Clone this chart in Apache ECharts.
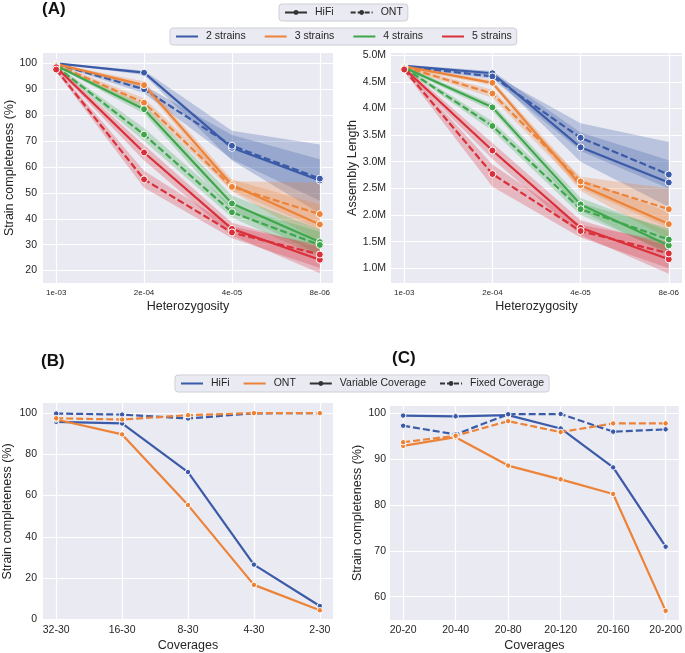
<!DOCTYPE html>
<html>
<head>
<meta charset="utf-8">
<script src="https://cdn.jsdelivr.net/npm/echarts@6/dist/echarts.min.js"></script>
<style>
  html, body { margin: 0; padding: 0; background: #fff; }
  #main { width: 685px; height: 653px; }
</style>
</head>
<body>
<div id="main"></div>
<script>
// ---- data (A) ----
const hetLabels = ['1e-03', '2e-04', '4e-05', '8e-06'];
const strainNames = ['2 strains', '3 strains', '4 strains', '5 strains'];
const strainColors = ['#3b5ba8', '#ec8338', '#40a64c', '#d9303a'];

// strain completeness (%), rows = 2..5 strains
const complHifi   = [[100.0, 96.4, 67.4, 54.8], [99.7, 91.6, 53.0, 37.8], [99.2, 82.3, 45.9, 31.0], [98.5, 65.6, 36.1, 24.2]];
const complHifiLo = [[99.9, 95.5, 62.5, 42.0], [99.4, 90.3, 50.5, 31.0], [98.8, 80.5, 43.0, 26.0], [97.8, 62.5, 33.5, 19.0]];
const complHifiHi = [[100.0, 97.2, 74.0, 68.7], [100.0, 93.0, 55.2, 45.5], [99.6, 84.0, 49.0, 36.0], [99.2, 68.5, 38.5, 29.0]];
const complOnt    = [[99.8, 90.0, 68.2, 55.5], [99.4, 84.8, 52.3, 41.8], [98.8, 72.5, 42.5, 29.9], [97.6, 55.2, 34.7, 26.2]];
const complOntLo  = [[99.5, 88.5, 63.0, 47.0], [98.9, 83.0, 50.8, 36.0], [98.2, 70.0, 40.5, 25.0], [96.8, 52.0, 32.5, 21.0]];
const complOntHi  = [[100.0, 91.5, 72.3, 63.0], [99.9, 86.5, 54.5, 54.0], [99.4, 75.0, 45.0, 35.0], [98.4, 58.5, 37.0, 30.0]];

// assembly length (Mbp)
const asmHifi   = [[4.80, 4.66, 3.27, 2.61], [4.79, 4.48, 2.56, 1.83], [4.77, 4.02, 2.20, 1.43], [4.75, 3.21, 1.76, 1.17]];
const asmHifiLo = [[4.78, 4.62, 3.00, 2.15], [4.76, 4.43, 2.45, 1.55], [4.74, 3.95, 2.08, 1.25], [4.71, 3.05, 1.62, 0.90]];
const asmHifiHi = [[4.82, 4.70, 3.55, 3.03], [4.81, 4.53, 2.68, 2.05], [4.80, 4.09, 2.32, 1.70], [4.79, 3.35, 1.90, 1.42]];
const asmOnt    = [[4.79, 4.60, 3.45, 2.76], [4.78, 4.28, 2.63, 2.11], [4.76, 3.67, 2.11, 1.54], [4.73, 2.77, 1.70, 1.28]];
const asmOntLo  = [[4.77, 4.55, 3.20, 2.50], [4.75, 4.20, 2.50, 1.75], [4.73, 3.58, 2.00, 1.30], [4.69, 2.53, 1.58, 1.00]];
const asmOntHi  = [[4.81, 4.64, 3.72, 3.37], [4.80, 4.35, 2.72, 2.50], [4.79, 3.76, 2.22, 1.75], [4.77, 2.95, 1.82, 1.50]];

// ---- data (B) ----
const covB = ['32-30', '16-30', '8-30', '4-30', '2-30'];
const bHifiVar = [95.7, 94.9, 71.4, 26.6, 6.6];
const bOntVar  = [96.8, 89.6, 55.4, 16.8, 4.5];
const bHifiFix = [99.7, 99.2, 97.3, 99.8, 99.9];
const bOntFix  = [97.4, 96.8, 98.9, 99.9, 99.9];

// ---- data (C) ----
const covC = ['20-20', '20-40', '20-80', '20-120', '20-160', '20-200'];
const cHifiVar = [99.5, 99.35, 99.6, 96.7, 88.2, 70.9];
const cOntVar  = [92.9, 94.8, 88.6, 85.6, 82.4, 56.9];
const cHifiFix = [97.3, 95.4, 99.8, 99.85, 96.0, 96.5];
const cOntFix  = [93.7, 95.1, 98.3, 95.9, 97.8, 97.8];

const ticksA1 = [20, 30, 40, 50, 60, 70, 80, 90, 100];
const ticksA2 = [1.0, 1.5, 2.0, 2.5, 3.0, 3.5, 4.0, 4.5, 5.0];
const ticksB = [0, 20, 40, 60, 80, 100];
const ticksC = [60, 70, 80, 90, 100];

const hifiColor = '#3b5ba8';
const ontColor = '#ec8338';
const darkColor = '#333333';
const txt = '#262626';

function pts(vals) {
  return vals.map((v, i) => [i, v]);
}

function lineSeries(name, g, vals, color, dashed, size) {
  return {
    type: 'line', name: name, xAxisIndex: g, yAxisIndex: g, data: pts(vals), z: 3,
    symbol: 'circle', symbolSize: size,
    lineStyle: { color: color, width: 2.2, type: dashed ? [7, 3] : 'solid' },
    itemStyle: { color: color, borderColor: '#fff', borderWidth: 1 },
    emphasis: { disabled: true }
  };
}

// confidence band drawn as one polygon through the axis scales
function bandSeries(g, lo, hi, color) {
  return {
    type: 'custom', xAxisIndex: g, yAxisIndex: g, data: pts(lo), z: 1, silent: true,
    renderItem: function (params, api) {
      if (params.dataIndex !== 0) return;
      const poly = [];
      lo.forEach((v, i) => poly.push(api.coord([i, v])));
      for (let i = hi.length - 1; i >= 0; i--) poly.push(api.coord([i, hi[i]]));
      return { type: 'polygon', shape: { points: poly }, style: { fill: color, opacity: 0.27 } };
    }
  };
}

function legendDummy(name, color, dashed, sym) {
  return {
    type: 'line', name: name, xAxisIndex: 0, yAxisIndex: 0, data: [],
    symbol: sym ? 'circle' : 'none',
    lineStyle: { color: color, width: 2, type: dashed ? [5, 2] : 'solid' },
    itemStyle: { color: color }
  };
}

function xAxis(g, labels, pad, name, fontSize, margin) {
  const idx = labels.map((l, i) => i);
  return {
    gridIndex: g, type: 'value', min: -pad, max: labels.length - 1 + pad,
    axisLine: { show: false },
    axisTick: { show: false, customValues: idx },
    axisLabel: { customValues: idx, formatter: v => labels[Math.round(v)], fontSize: fontSize, color: txt, margin: margin },
    splitLine: { show: true, lineStyle: { color: '#ffffff', width: 1.2 } },
    name: name, nameLocation: 'middle', nameGap: fontSize < 10 ? 17 : 19,
    nameTextStyle: { fontSize: 12.5, color: txt }
  };
}

function yAxis(g, min, max, ticks, name, nameGap, margin, fmt) {
  return {
    gridIndex: g, type: 'value', min: min, max: max,
    axisLine: { show: false },
    axisTick: { show: false, customValues: ticks },
    axisLabel: { customValues: ticks, formatter: fmt, fontSize: 10.5, color: txt, margin: margin },
    splitLine: { show: true, lineStyle: { color: '#ffffff', width: 1.2 } },
    name: name, nameLocation: 'middle', nameGap: nameGap,
    nameTextStyle: { fontSize: 12.5, color: txt }
  };
}

const series = [];
// legend-only series
series.push(legendDummy('HiFi', darkColor, false, true));
series.push(legendDummy('ONT', darkColor, true, true));
strainNames.forEach((n, k) => series.push(legendDummy(n, strainColors[k], false, false)));
series.push(legendDummy('HiFi_bc', hifiColor, false, false));
series.push(legendDummy('ONT_bc', ontColor, false, false));
series.push(legendDummy('Variable Coverage', darkColor, false, true));
series.push(legendDummy('Fixed Coverage', darkColor, true, true));

// (A) bands then lines
for (let k = 0; k < 4; k++) {
  const c = strainColors[k];
  series.push(bandSeries(0, complHifiLo[k], complHifiHi[k], c));
  series.push(bandSeries(0, complOntLo[k], complOntHi[k], c));
  series.push(bandSeries(1, asmHifiLo[k], asmHifiHi[k], c));
  series.push(bandSeries(1, asmOntLo[k], asmOntHi[k], c));
}
for (let k = 0; k < 4; k++) {
  const c = strainColors[k];
  series.push(lineSeries('A1 HiFi ' + k, 0, complHifi[k], c, false, 7));
  series.push(lineSeries('A1 ONT ' + k, 0, complOnt[k], c, true, 7));
  series.push(lineSeries('A2 HiFi ' + k, 1, asmHifi[k], c, false, 7));
  series.push(lineSeries('A2 ONT ' + k, 1, asmOnt[k], c, true, 7));
}
// (B)
series.push(lineSeries('B HiFi var', 2, bHifiVar, hifiColor, false, 5.5));
series.push(lineSeries('B ONT var', 2, bOntVar, ontColor, false, 5.5));
series.push(lineSeries('B HiFi fix', 2, bHifiFix, hifiColor, true, 5.5));
series.push(lineSeries('B ONT fix', 2, bOntFix, ontColor, true, 5.5));
// (C)
series.push(lineSeries('C HiFi var', 3, cHifiVar, hifiColor, false, 5.5));
series.push(lineSeries('C ONT var', 3, cOntVar, ontColor, false, 5.5));
series.push(lineSeries('C HiFi fix', 3, cHifiFix, hifiColor, true, 5.5));
series.push(lineSeries('C ONT fix', 3, cOntFix, ontColor, true, 5.5));

const legendBase = {
  orient: 'horizontal', selectedMode: false,
  backgroundColor: '#eaeaf2', borderColor: '#cfcfd6', borderWidth: 1, borderRadius: 3,
  padding: [3, 5, 3, 5], itemWidth: 22, itemHeight: 6, itemGap: 16,
  textStyle: { fontSize: 10.5, color: txt, padding: [0, 0, 0, 3] }
};
const bcLabels = { HiFi_bc: 'HiFi', ONT_bc: 'ONT' };

const option = {
  animation: false,
  textStyle: { fontFamily: 'Liberation Sans, Arial, sans-serif' },
  title: [
    { text: '(A)', left: 42, top: 1, padding: 0, textStyle: { fontSize: 17, fontWeight: 'bold', color: '#111' } },
    { text: '(B)', left: 41, top: 353, padding: 0, textStyle: { fontSize: 17, fontWeight: 'bold', color: '#111' } },
    { text: '(C)', left: 392, top: 350, padding: 0, textStyle: { fontSize: 17, fontWeight: 'bold', color: '#111' } }
  ],
  legend: [
    Object.assign({}, legendBase, { left: 279, top: 4, data: ['HiFi', 'ONT'] }),
    Object.assign({}, legendBase, { left: 170, top: 28, itemGap: 18, itemStyle: { opacity: 0 }, data: strainNames }),
    Object.assign({}, legendBase, {
      left: 175, top: 375, itemGap: 13,
      data: [
        { name: 'HiFi_bc', itemStyle: { opacity: 0 } },
        { name: 'ONT_bc', itemStyle: { opacity: 0 } },
        'Variable Coverage', 'Fixed Coverage'
      ],
      formatter: n => bcLabels[n] || n
    })
  ],
  grid: [
    { left: 43, top: 53, width: 290, height: 230, show: true, backgroundColor: '#eaeaf2', borderWidth: 0 },
    { left: 391, top: 53, width: 291, height: 230, show: true, backgroundColor: '#eaeaf2', borderWidth: 0 },
    { left: 40, top: 403, width: 293, height: 219, show: true, backgroundColor: '#eaeaf2', borderWidth: 0 },
    { left: 390, top: 406, width: 292, height: 216, show: true, backgroundColor: '#eaeaf2', borderWidth: 0 }
  ],
  xAxis: [
    xAxis(0, hetLabels, 0.15, 'Heterozygosity', 8, 6),
    xAxis(1, hetLabels, 0.15, 'Heterozygosity', 8, 6),
    xAxis(2, covB, 0.2, 'Coverages', 10.5, 5),
    xAxis(3, covC, 0.25, 'Coverages', 10.5, 5)
  ],
  yAxis: [
    yAxis(0, 15.2, 104.0, ticksA1, 'Strain completeness (%)', 23, 6, v => String(v)),
    yAxis(1, 0.725, 5.04, ticksA2, 'Assembly Length', 32, 5, v => v.toFixed(1) + 'M'),
    yAxis(2, -0.2, 104.8, ticksB, 'Strain completeness (%)', 29, 6, v => String(v)),
    yAxis(3, 54.9, 101.6, ticksC, 'Strain completeness (%)', 26, 4, v => String(v))
  ],
  series: series
};

const myChart = echarts.init(document.getElementById('main'));
myChart.setOption(option);
</script>
</body>
</html>
